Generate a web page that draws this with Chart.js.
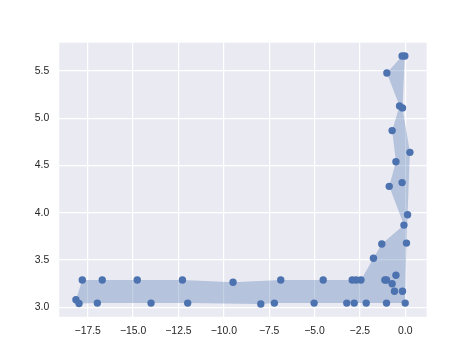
<!DOCTYPE html>
<html>
<head>
<meta charset="utf-8">
<script src="https://cdn.jsdelivr.net/npm/chart.js@4.4.1/dist/chart.umd.min.js"></script>
<style>
  html, body { margin: 0; padding: 0; background: #ffffff; }
  canvas { display: block; }
</style>
</head>
<body>
<canvas id="c" width="474" height="356"></canvas>
<script>
// ---- data ----
const xs = [-18.15, -17.98, -16.97, -14.01, -11.99, -7.96, -7.21, -5.02, -3.22, -2.81, -2.15, -1.03, 0.00,
            -0.15, -0.59, -0.72, -0.51, -1.03, -1.12,
            0.07, 0.13, 0.26, -0.15, -0.02, -0.17, -1.01, -0.31, -0.72, -0.51, -0.17, -0.88, -0.07, -1.29, -1.75,
            -2.44, -2.70, -2.92, -4.52, -6.86, -9.49, -12.28, -14.77, -16.70, -17.80];
const ys = [3.08, 3.04, 3.045, 3.045, 3.045, 3.035, 3.045, 3.045, 3.045, 3.045, 3.045, 3.045, 3.045,
            3.17, 3.17, 3.25, 3.34, 3.29, 3.29,
            3.68, 3.98, 4.64, 5.11, 5.66, 5.66, 5.48, 5.13, 4.87, 4.54, 4.32, 4.28, 3.87, 3.67, 3.52,
            3.29, 3.29, 3.29, 3.29, 3.29, 3.265, 3.29, 3.29, 3.29, 3.29];
// indices of the points that form the outline of the shaded band, in drawing order
const outline = [0,1,2,3,4,5,6,7,8,9,10,11,12,19,20,21,22,23,24,25,26,27,28,30,31,32,33,34,35,36,37,38,39,40,41,42,43];

const xTicks = [-17.5, -15.0, -12.5, -10.0, -7.5, -5.0, -2.5, 0.0];
const xTickLabels = ['\u221217.5', '\u221215.0', '\u221212.5', '\u221210.0', '\u22127.5', '\u22125.0', '\u22122.5', '0.0'];
const yTicks = [3.0, 3.5, 4.0, 4.5, 5.0, 5.5];
const yTickLabels = ['3.0', '3.5', '4.0', '4.5', '5.0', '5.5'];

// ---- build library structures ----
const pointData = xs.map((x, i) => ({x: x, y: ys[i]}));
const bandData = outline.map(i => ({x: xs[i], y: ys[i]}));

const plotBg = {
  id: 'plotBg',
  beforeDraw(chart) {
    const {ctx, chartArea: a} = chart;
    ctx.save();
    ctx.fillStyle = '#EAEAF2';
    ctx.fillRect(a.left, a.top, a.right - a.left, a.bottom - a.top);
    ctx.restore();
  }
};

const tickFont = {family: "'Liberation Sans', Arial, sans-serif", size: 10.4};

new Chart(document.getElementById('c'), {
  type: 'scatter',
  data: {
    datasets: [
      {
        data: pointData,
        order: 0,
        pointRadius: 3.7,
        pointHoverRadius: 3.7,
        pointBackgroundColor: '#4C72B0',
        pointBorderWidth: 0,
        showLine: false
      },
      {
        data: bandData,
        order: 1,
        indexAxis: 'y',
        showLine: true,
        pointRadius: 0,
        borderWidth: 0,
        borderColor: 'rgba(0,0,0,0)',
        backgroundColor: 'rgba(76,114,176,0.33)',
        fill: 'shape',
        tension: 0
      }
    ]
  },
  options: {
    responsive: false,
    animation: false,
    devicePixelRatio: 1,
    layout: {padding: {top: 42.7, right: 47.4, left: 0, bottom: 0}},
    plugins: {legend: {display: false}, tooltip: {enabled: false}},
    scales: {
      x: {
        type: 'linear',
        min: -19.07, max: 1.18,
        afterBuildTicks(s) { s.ticks = xTicks.map(v => ({value: v})); },
        afterFit(s) { s.height = 39.2; },
        grid: {color: '#ffffff', lineWidth: 1.2, drawTicks: false},
        border: {display: false},
        ticks: {
          padding: 8,
          color: '#262626',
          font: tickFont,
          maxRotation: 0,
          autoSkip: false,
          callback(v) { const i = xTicks.indexOf(v); return i >= 0 ? xTickLabels[i] : ''; }
        }
      },
      y: {
        type: 'linear',
        min: 2.9, max: 5.8,
        afterBuildTicks(s) { s.ticks = yTicks.map(v => ({value: v})); },
        afterFit(s) { s.width = 59.25; },
        grid: {color: '#ffffff', lineWidth: 1.2, drawTicks: false},
        border: {display: false},
        ticks: {
          padding: 10,
          color: '#262626',
          font: tickFont,
          autoSkip: false,
          callback(v) { const i = yTicks.indexOf(v); return i >= 0 ? yTickLabels[i] : ''; }
        }
      }
    }
  },
  plugins: [plotBg]
});
</script>
</body>
</html>
